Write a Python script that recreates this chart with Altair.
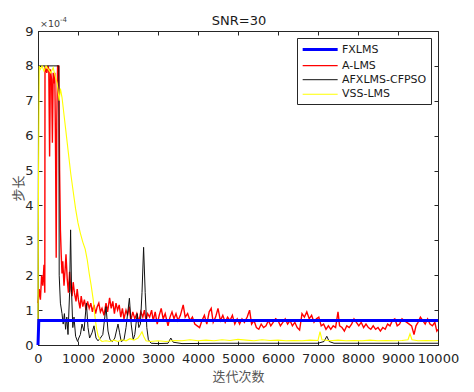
import altair as alt
import pandas as pd

# ---------------- data (step size in units of 1e-4) ----------------
names = ["FXLMS", "A-LMS", "AFXLMS-CFPSO", "VSS-LMS"]
colors = ["#0000ff", "#ff0000", "#111111", "#ffff00"]
widths = [3.0, 1.4, 1.0, 1.1]

fx_x = [0, 20, 10000]
fx_y = [0, 0.7, 0.7]

al_x = [0, 30, 60, 90, 120, 150, 170, 175, 220, 250, 270, 290, 310, 340, 360, 380, 410, 420, 440, 455, 470, 490,
        520, 540, 560, 580, 600, 620, 650, 680, 700, 730, 760, 790, 820, 850, 880, 910, 950, 980, 1010, 1050,
        1080, 1120, 1160, 1200, 1240, 1280, 1320, 1360, 1400, 1440, 1480, 1520, 1560, 1600, 1650, 1700, 1740,
        1790, 1830, 1870, 1910, 1950, 1990, 2030, 2070, 2110, 2150, 2200, 2240, 2280, 2320, 2370, 2420, 2470,
        2520, 2570, 2620, 2660, 2700, 2740, 2790, 2840, 2880, 2930, 2980, 3030, 3080, 3130, 3180, 3250, 3300,
        3350, 3400, 3450, 3500, 3560, 3630, 3680, 3740, 3800, 3860, 3920, 3980, 4040, 4100, 4160, 4220, 4280,
        4330, 4380, 4440, 4500, 4560, 4620, 4680, 4740, 4800, 4860, 4920, 4980, 5040, 5100, 5160, 5230, 5290,
        5340, 5400, 5460, 5520, 5580, 5640, 5700, 5760, 5820, 5880, 5940, 6000, 6060, 6120, 6180, 6240, 6300,
        6360, 6420, 6480, 6540, 6600, 6660, 6720, 6780, 6840, 6900, 6960, 7020, 7080, 7140, 7200, 7260, 7320,
        7380, 7440, 7500, 7540, 7600, 7660, 7720, 7780, 7840, 7900, 7960, 8020, 8080, 8140, 8200, 8260, 8320,
        8380, 8440, 8500, 8560, 8620, 8680, 8740, 8800, 8860, 8920, 8980, 9040, 9100, 9160, 9220, 9280, 9340,
        9400, 9450, 9500, 9560, 9620, 9680, 9740, 9800, 9860, 9920, 9970, 10000]
al_y = [1.2, 1.6, 1.3, 2.0, 1.7, 2.3, 1.5, 8.0, 7.8, 8.0, 7.9, 5.4, 7.9, 7.6, 5.8, 7.8, 7.5, 7.8, 5.4, 2.5, 6.5, 8.0,
        8.0, 5.0, 3.3, 2.6, 2.05, 2.4, 1.7, 2.2, 2.6, 1.9, 1.5, 2.1, 1.6, 1.4, 1.8, 1.5, 1.25, 1.6, 1.3, 1.05,
        1.4, 1.1, 1.3, 1.0, 1.25, 1.05, 1.2, 0.95, 1.15, 0.9, 1.1, 1.2, 0.95, 1.05, 0.85, 1.2, 0.95,
        1.35, 1.05, 1.25, 0.9, 1.2, 1.0, 1.15, 0.8, 1.05, 0.75, 1.0, 0.85, 1.1, 0.7, 0.95, 0.75, 0.9,
        0.65, 0.95, 0.8, 1.0, 0.7, 0.9, 0.8, 1.0, 0.7, 0.95, 0.6, 0.85, 1.05, 0.75, 0.9, 0.55, 0.8,
        0.95, 0.75, 0.9, 0.7, 0.85, 1.15, 0.8, 0.9, 0.7, 0.8, 0.6, 0.55, 0.5, 0.7, 0.85, 0.6, 0.95,
        1.05, 0.65, 0.8, 1.05, 0.7, 0.85, 0.65, 0.8, 0.7, 0.85, 0.6, 0.75, 0.6, 0.75, 0.65, 0.8, 1.0,
        0.6, 0.7, 0.5, 0.45, 0.6, 0.5, 0.55, 0.7, 0.55, 0.65, 0.75, 0.7, 0.55, 0.65, 0.75, 0.6, 0.7,
        0.55, 0.65, 0.5, 0.43, 0.9, 0.8, 0.95, 0.75, 0.85, 0.65, 0.75, 0.8, 0.55, 0.6, 0.45, 0.55, 0.45,
        0.55, 0.5, 0.95, 0.55, 0.5, 0.4, 0.55, 0.5, 0.6, 0.75, 0.65, 0.55, 0.65, 0.5, 0.6, 0.5, 0.45,
        0.55, 0.45, 0.5, 0.4, 0.5, 0.45, 0.6, 0.55, 0.7, 0.75, 0.55, 0.6, 0.75, 0.7, 0.65, 0.6, 0.55,
        0.3, 0.55, 0.65, 0.8, 0.7, 0.6, 0.75, 0.6, 0.55, 0.65, 0.4, 0.45]

af_x = [0, 15, 520, 530, 560, 600, 630, 660, 690, 720, 750, 790, 815, 840, 870, 900, 940, 990, 1020, 1060, 1100,
        1150, 1210, 1250, 1290, 1350, 1400, 1450, 1500, 1560, 1620, 1700, 1750, 1800, 1860, 1920, 2000, 2040,
        2080, 2150, 2200, 2285, 2330, 2380, 2420, 2480, 2520, 2560, 2600, 2640, 2680, 2720, 2760, 2830, 3000,
        3250, 3320, 3380, 3600, 4500, 5500, 7000, 7150, 7220, 7280, 7400, 10000]
af_y = [0, 8.0, 8.0, 2.0, 1.2, 0.9, 0.6, 0.9, 0.45, 0.8, 0.3, 1.5, 3.3, 1.5, 0.5, 0.8, 0.25, 0.1, 0.2, 0.3, 0.6,
        0.4, 1.2, 0.5, 0.2, 0.35, 0.55, 0.2, 0.12, 0.2, 0.3, 1.1, 0.4, 0.15, 0.1, 0.2, 0.6, 0.35,
        0.1, 0.15, 0.5, 1.34, 0.6, 0.15, 0.3, 0.9, 0.5, 0.6, 1.5, 2.8, 1.5, 0.5, 0.15, 0.05, 0.04,
        0.05, 0.2, 0.08, 0.04, 0.05, 0.05, 0.05, 0.1, 0.25, 0.1, 0.05, 0.05]

vs_x = [0, 10, 30, 60, 100, 150, 200, 260, 320, 380, 430, 480, 530, 560, 600, 650, 700, 760, 820, 880, 940, 1000,
        1060, 1120, 1180, 1230, 1280, 1330, 1380, 1420, 1460, 1500, 1550, 1600, 1700, 1800, 1900, 2000, 2100,
        2200, 2300, 2400, 2500, 2560, 2600, 2640, 2700, 2800, 3000, 3200, 3400, 3600, 3800, 4000, 4200, 4400,
        4600, 4800, 5000, 5200, 5400, 5600, 5800, 6000, 6200, 6400, 6600, 6800, 7000, 7050, 7100, 7300, 7500,
        7700, 7900, 8100, 8300, 8500, 8700, 8900, 9100, 9250, 9300, 9350, 9500, 9700, 9900, 10000]
vs_y = [0, 4.0, 8.0, 7.9, 8.0, 7.85, 8.0, 7.9, 7.8, 7.95, 7.7, 7.5, 7.0, 7.35, 7.1, 6.6, 6.1, 5.5, 4.9, 4.4, 3.9, 3.5,
        3.2, 2.95, 2.75, 2.45, 2.05, 1.7, 1.3, 0.85, 0.5, 0.28, 0.15, 0.1, 0.12, 0.1, 0.14, 0.1, 0.15,
        0.12, 0.18, 0.14, 0.2, 0.3, 0.38, 0.25, 0.12, 0.1, 0.12, 0.1, 0.13, 0.12, 0.15, 0.12, 0.14, 0.12,
        0.15, 0.13, 0.16, 0.14, 0.12, 0.15, 0.13, 0.14, 0.12, 0.13, 0.12, 0.14, 0.13, 0.38, 0.15, 0.12, 0.14,
        0.12, 0.13, 0.12, 0.14, 0.12, 0.13, 0.12, 0.13, 0.15, 0.32, 0.15, 0.12, 0.13, 0.12, 0.13]

x_ticks = [0, 1000, 2000, 3000, 4000, 5000, 6000, 7000, 8000, 9000, 10000]
y_ticks = [0, 1, 2, 3, 4, 5, 6, 7, 8, 9]
title_text = "SNR=30"

W, H = 400, 314
FONT = "DejaVu Sans"
CJK = "Noto Sans CJK SC"
AX = "#262626"


def frame(name, xs, ys):
    return pd.DataFrame({"x": xs, "y": ys, "s": name, "o": list(range(len(xs)))})


df_fx = frame(names[0], fx_x, fx_y)
df_al = frame(names[1], al_x, al_y)
df_af = frame(names[2], af_x, af_y)
df_vs = frame(names[3], vs_x, vs_y)

xscale = alt.Scale(domain=[0, 10000], nice=False, zero=False)
yscale = alt.Scale(domain=[0, 9], nice=False, zero=False)

legend = alt.Legend(
    title=None, orient="none", legendX=259, legendY=7,
    symbolType="M-1,0H5", symbolSize=136, labelOffset=26,
    labelFont=FONT, labelFontSize=11, labelColor="#1a1a1a",
    strokeColor="#262626", fillColor="white", padding=4, rowPadding=2.6,
    cornerRadius=0, symbolOpacity=1,
)
color = alt.Color("s:N", scale=alt.Scale(domain=names, range=colors), legend=legend)
swidth = alt.StrokeWidth("s:N", scale=alt.Scale(type="ordinal", domain=names, range=widths), legend=legend)

main_x_axis = alt.Axis(values=x_ticks, format="d", title="迭代次数", titleFont=CJK, titleFontSize=13,
                       titleFontWeight="normal", titleColor="#555555", titlePadding=5,
                       labelFont=FONT, labelFontSize=13, labelColor=AX, labelPadding=7,
                       tickSize=0, domainColor=AX, grid=False, labelFlush=False)
main_y_axis = alt.Axis(values=y_ticks, format="d", title="步长", titleFont=CJK, titleFontSize=13,
                       titleFontWeight="normal", titleColor="#555555", titleX=-13,
                       labelFont=FONT, labelFontSize=13, labelColor=AX, labelPadding=5,
                       tickSize=0, domainColor=AX, grid=False, labelFlush=False)


def series_layer(df, xaxis=None, yaxis=None):
    return alt.Chart(df).mark_line(strokeCap="butt", strokeJoin="miter").encode(
        x=alt.X("x:Q", scale=xscale, axis=xaxis),
        y=alt.Y("y:Q", scale=yscale, axis=yaxis),
        order="o:Q",
        color=color,
        strokeWidth=swidth,
    )


red = series_layer(df_al, main_x_axis, main_y_axis)
black = series_layer(df_af)
yellow = series_layer(df_vs)
blue = series_layer(df_fx)

tick_kw = dict(values=x_ticks, labels=False, title=None, tickSize=4, tickColor=AX,
               domainColor=AX, grid=False)
tick_ky = dict(values=y_ticks, labels=False, title=None, tickSize=4, tickColor=AX,
               domainColor=AX, grid=False)

# inward ticks at bottom and left
ticks_a = alt.Chart(df_fx).mark_line(opacity=0).encode(
    x=alt.X("x:Q", scale=xscale, axis=alt.Axis(orient="top", offset=-H, **tick_kw)),
    y=alt.Y("y:Q", scale=yscale, axis=alt.Axis(orient="right", offset=-W, **tick_ky)),
)
# inward ticks at top and right (box)
ticks_b = alt.Chart(df_fx).mark_line(opacity=0).encode(
    x=alt.X("x:Q", scale=xscale, axis=alt.Axis(orient="bottom", offset=-H, **tick_kw)),
    y=alt.Y("y:Q", scale=yscale, axis=alt.Axis(orient="left", offset=-W, **tick_ky)),
)

note = pd.DataFrame({"t": ["×10"], "e": ["-4"], "title": [title_text]})
exp_base = alt.Chart(note).mark_text(align="left", baseline="alphabetic", font=FONT,
                                     fontSize=9.5, color="#404040").encode(
    text="t:N", x=alt.value(2), y=alt.value(-4))
exp_sup = alt.Chart(note).mark_text(align="left", baseline="alphabetic", font=FONT,
                                    fontSize=7, color="#404040").encode(
    text="e:N", x=alt.value(22), y=alt.value(-9))
title_mark = alt.Chart(note).mark_text(align="center", baseline="alphabetic", font=FONT,
                                       fontSize=13, color="#1a1a1a").encode(
    text="title:N", x=alt.value(W / 2 + 1), y=alt.value(-6))

chart = alt.layer(red, black, yellow, blue, ticks_a, ticks_b, exp_base, exp_sup, title_mark).resolve_axis(
    x="independent", y="independent"
).properties(
    width=W, height=H,
    autosize=alt.AutoSizeParams(type="none"),
    padding={"left": 30, "top": 23, "right": 28, "bottom": 39},
).configure_view(stroke=None).configure(background="white")

chart.save("out.html", embed_options={"renderer": "svg", "actions": False})
